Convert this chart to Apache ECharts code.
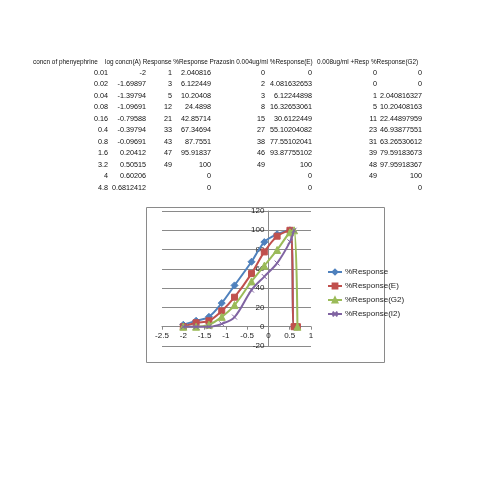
<!DOCTYPE html>
<html><head><meta charset="utf-8">
<script src="https://cdn.jsdelivr.net/npm/echarts@6/dist/echarts.min.js"></script>
<style>html,body{margin:0;padding:0;background:#fff}#c{width:495px;height:495px}</style>
</head><body><div id="c"></div>
<script>
const headers = ["concn of phenyephrine", "log concn(A)", "Response", "%Response", "Prazosin 0.004ug/ml", "%Response(E)", "0.008ug/ml +Resp", "%Response(G2)"];
const concn = [0.01, 0.02, 0.04, 0.08, 0.16, 0.4, 0.8, 1.6, 3.2, 4, 4.8];
const logConc = [-2, -1.69897, -1.39794, -1.09691, -0.79588, -0.39794, -0.09691, 0.20412, 0.50515, 0.60206, 0.6812412];
const response = [1, 3, 5, 12, 21, 33, 43, 47, 49, null, null];
const pctResponse = [2.040816, 6.122449, 10.20408, 24.4898, 42.85714, 67.34694, 87.7551, 95.91837, 100, 0, 0];
const prazosinResp = [0, 2, 3, 8, 15, 27, 38, 46, 49, null, null];
const pctResponseE = [0, 4.081632653, 6.12244898, 16.32653061, 30.6122449, 55.10204082, 77.55102041, 93.87755102, 100, 0, 0];
const g2Resp = [0, 0, 1, 5, 11, 23, 31, 39, 48, 49, null];
const pctResponseG2 = [0, 0, 2.040816327, 10.20408163, 22.44897959, 46.93877551, 63.26530612, 79.59183673, 97.95918367, 100, 0];
const pctResponseI2 = [0, 0, 0, 3, 10, 38, 52, 66, 88, 100, null];
const seriesNames = ["%Response", "%Response(E)", "%Response(G2)", "%Response(I2)"];
const xTicks = {min: -2.5, max: 1, interval: 0.5};
const yTicks = {min: -20, max: 120, interval: 20};

// ---- layout ----
const FONT_FAMILY = "'Liberation Sans',Arial,sans-serif";
const FS = 8;
const font = FS + "px " + FONT_FAMILY;
const HEAD_SX = 0.8, NUM_SX = 0.9;
const headerY = 62, rowY0 = 72.5, rowStep = 11.5;
const colRight = [108, 146, 172, 211, 265, 312, 377, 422];
// header runs: [first column, end column (exclusive), left x]
const headerRuns = [[0, 1, 33], [1, 6, 105], [6, 8, 317]];

const ctx = document.createElement('canvas').getContext('2d');
ctx.font = font;
const graphics = [];
function txt(s, x, y, align, sx) {
  graphics.push({type: 'text', x: x, y: y, scaleX: sx, silent: true,
    style: {text: s, font: font, fill: '#111', align: align, textAlign: align,
            verticalAlign: 'middle', textVerticalAlign: 'middle'}});
}
headerRuns.forEach(function (r) {
  let x = r[2];
  for (let c = r[0]; c < r[1]; c++) {
    txt(headers[c], x, headerY, 'left', HEAD_SX);
    x += ctx.measureText(headers[c] + ' ').width * HEAD_SX;
  }
});
const cols = [concn, logConc, response, pctResponse, prazosinResp, pctResponseE, g2Resp, pctResponseG2];
cols.forEach(function (arr, ci) {
  arr.forEach(function (v, ri) {
    if (v === null) return;
    txt(String(v), colRight[ci], rowY0 + ri * rowStep, 'right', NUM_SX);
  });
});
// chart frame
graphics.push({type: 'rect', z: -10, silent: true, shape: {x: 146.5, y: 207.5, width: 238, height: 155},
  style: {fill: '#fff', stroke: '#8a8a8a', lineWidth: 1}});

function pairs(ys) {
  const out = [];
  ys.forEach(function (v, i) { if (v !== null) out.push([logConc[i], v]); });
  return out;
}
const colors = ['#4F81BD', '#C0504D', '#9BBB59', '#8064A2'];
const crossPath = 'path://M0,0L10,10M10,0L0,10';
const symbols = ['diamond', 'rect', 'triangle', crossPath];
const symbolSizes = [7, 6, 7, 5];
const seriesData = [pctResponse, pctResponseE, pctResponseG2, pctResponseI2];

// plot area and axes crossing at zero
const G = {left: 162, right: 184, top: 211, bottom: 149};
const gridW = 495 - G.left - G.right, gridH = 495 - G.top - G.bottom;
const yAxisOffset = -((0 - xTicks.min) / (xTicks.max - xTicks.min)) * gridW;
const xAxisOffset = -((0 - yTicks.min) / (yTicks.max - yTicks.min)) * gridH;

const chart = echarts.init(document.getElementById('c'), null, {renderer: 'canvas'});
chart.setOption({
  animation: false,
  graphic: {elements: graphics},
  color: colors,
  grid: {left: G.left, right: G.right, top: G.top, bottom: G.bottom, containLabel: false},
  legend: {
    orient: 'vertical', left: 322, top: 263, itemGap: 6, itemWidth: 14, itemHeight: 6,
    textStyle: {fontSize: FS, fontFamily: FONT_FAMILY, color: '#222', padding: [0, 0, 0, -2]},
    data: seriesNames
  },
  xAxis: {
    type: 'value', min: xTicks.min, max: xTicks.max, interval: xTicks.interval,
    position: 'bottom', offset: xAxisOffset,
    axisLine: {onZero: false, lineStyle: {color: '#8a8a8a', width: 1}},
    axisTick: {show: true, length: 3, lineStyle: {color: '#8a8a8a'}},
    axisLabel: {fontSize: FS, fontFamily: FONT_FAMILY, color: '#222', margin: 5},
    splitLine: {show: false}
  },
  yAxis: {
    type: 'value', min: yTicks.min, max: yTicks.max, interval: yTicks.interval,
    position: 'left', offset: yAxisOffset,
    axisLine: {show: true, onZero: false, lineStyle: {color: '#8a8a8a', width: 1}},
    axisTick: {show: true, length: 3, lineStyle: {color: '#8a8a8a'}},
    axisLabel: {fontSize: FS, fontFamily: FONT_FAMILY, color: '#222', margin: 4},
    splitLine: {show: true, lineStyle: {color: '#8a8a8a', width: 1}}
  },
  series: seriesData.map(function (d, i) {
    return {
      name: seriesNames[i], type: 'line', smooth: 0.35,
      data: pairs(d), symbol: symbols[i], symbolSize: symbolSizes[i], showSymbol: true,
      lineStyle: {width: 2, color: colors[i]},
      itemStyle: {color: colors[i], borderColor: colors[i], borderWidth: 1},
      z: 3 + i
    };
  })
});
</script></body></html>
